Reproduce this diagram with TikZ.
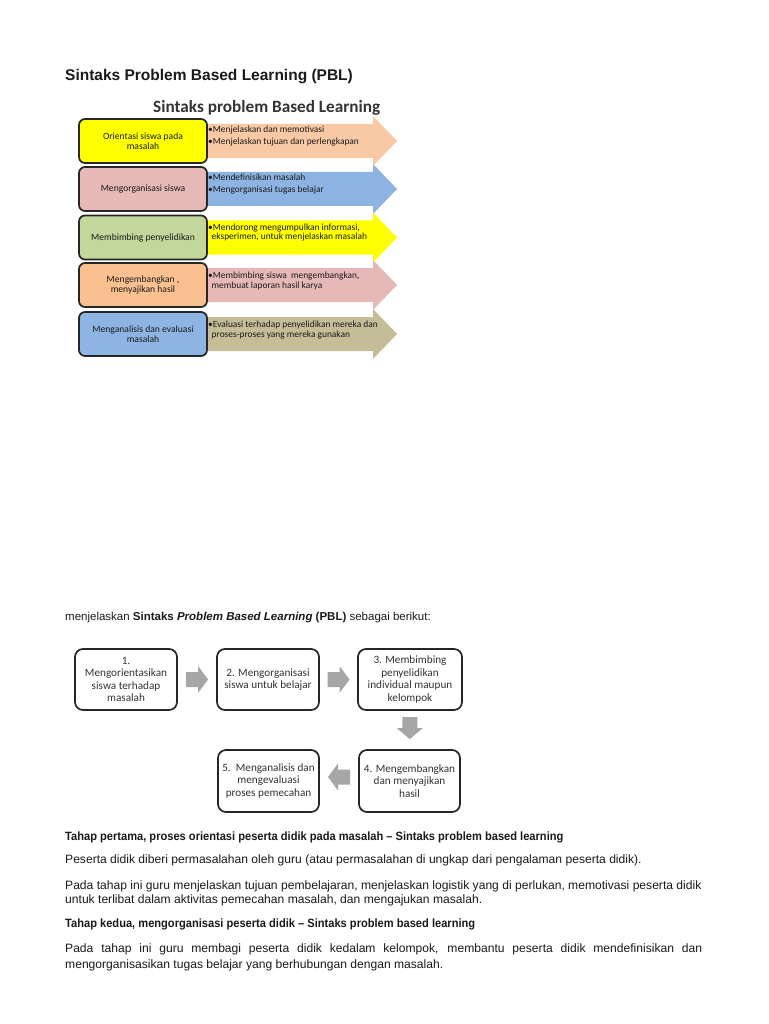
\documentclass[tikz,border=0pt]{standalone}
\usepackage{fontspec}
\setmainfont{Liberation Sans}
\newfontfamily\calfont{Carlito}
\usetikzlibrary{calc}
\definecolor{byellow}{HTML}{FFFF00}
\definecolor{bpink}{HTML}{E6B9B8}
\definecolor{bgreen}{HTML}{C3D69B}
\definecolor{borange}{HTML}{FAC090}
\definecolor{bblue}{HTML}{8EB4E3}
\definecolor{apeach}{HTML}{F9C8A4}
\definecolor{ablue}{HTML}{8DB3E2}
\definecolor{apink}{HTML}{E6B9B8}
\definecolor{akhaki}{HTML}{C4BD97}
\definecolor{agray}{HTML}{A6A6A6}
\definecolor{txt}{HTML}{1A1A1A}
\tikzset{
  phasebox/.style={draw=black!85, line width=1.7pt, rounded corners=6pt, minimum width=128pt, minimum height=44pt, inner sep=0pt, align=center, font=\calfont\fontsize{9.6}{10.5}\selectfont, text=txt},
  stepbox/.style={draw=black!85, line width=1.7pt, rounded corners=8pt, minimum height=61pt, inner sep=0pt, align=center, font=\calfont\fontsize{11.2}{12.6}\selectfont, text=black!80},
  bullettext/.style={anchor=base west, inner sep=0pt, font=\calfont\fontsize{9.4}{10}\selectfont, text=txt},
  bodytext/.style={anchor=base west, inner sep=0pt, font=\fontsize{12.1}{14}\selectfont, text=txt},
  boldtext/.style={anchor=base west, inner sep=0pt, font=\bfseries\fontsize{12}{14}\selectfont, text=txt},
  grayarrow/.style={fill=agray},
}
\newcommand\bandarrow[2]{%
  \fill[#2] (200,{#1-17}) -- (373,{#1-17}) -- (373,{#1-25}) -- (397,#1) -- (373,{#1+25}) -- (373,{#1+17}) -- (200,{#1+17}) -- cycle;}
\newcommand\narrowbold[1]{\scalebox{0.925}[1]{#1}}
\begin{document}
\begin{tikzpicture}[x=1pt,y=-1pt]
\path[use as bounding box, fill=white] (0,0) rectangle (768,1024);

% title
\node[anchor=base west, inner sep=0pt, font=\bfseries\fontsize{15.5}{17}\selectfont, text=txt] (title) at (65,81) {Sintaks Problem Based Learning (PBL)};

% diagram 1
\node[anchor=base west, inner sep=0pt, font=\calfont\bfseries\fontsize{17.2}{19}\selectfont, text=black!80] (head1) at (153,113) {Sintaks problem Based Learning};

\bandarrow{141}{apeach}
\bandarrow{189}{ablue}
\bandarrow{237.5}{byellow}
\bandarrow{285}{apink}
\bandarrow{334}{akhaki}

\node[phasebox, fill=byellow] (p1) at (143,141) {Orientasi siswa pada\\masalah};
\node[phasebox, fill=bpink] (p2) at (143,189) {Mengorganisasi siswa};
\node[phasebox, fill=bgreen] (p3) at (143,237.5) {Membimbing penyelidikan};
\node[phasebox, fill=borange] (p4) at (143,285) {Mengembangkan ,\\menyajikan hasil};
\node[phasebox, fill=bblue] (p5) at (143,334) {Menganalisis dan evaluasi\\masalah};

\node[bullettext] (t1a) at (208,133) {•Menjelaskan dan memotivasi};
\node[bullettext] (t1b) at (208,145) {•Menjelaskan tujuan dan perlengkapan};
\node[bullettext] (t2a) at (208,181) {•Mendefinisikan masalah};
\node[bullettext] (t2b) at (208,193) {•Mengorganisasi tugas belajar};
\node[bullettext] (t3a) at (208,230) {•Mendorong mengumpulkan informasi,};
\node[bullettext] (t3b) at (211.5,240) {eksperimen, untuk menjelaskan masalah};
\node[bullettext] (t4a) at (208,278) {•Membimbing siswa\ \ mengembangkan,};
\node[bullettext] (t4b) at (211.5,288) {membuat laporan hasil karya};
\node[bullettext] (t5a) at (208,327) {•Evaluasi terhadap penyelidikan mereka dan};
\node[bullettext] (t5b) at (211.5,337) {proses-proses yang mereka gunakan};

% intro line
\node[bodytext, font=\fontsize{11.5}{13}\selectfont] (intro) at (65,620) {menjelaskan \textbf{Sintaks \textit{Problem Based Learning}} \textbf{(PBL)} sebagai berikut:};

% diagram 2
\node[stepbox, minimum width=102pt] (b1) at (126,679.5) {1.\\Mengorientasikan\\siswa terhadap\\masalah};
\node[stepbox, minimum width=102pt] (b2) at (268,679.5) {2. Mengorganisasi\\siswa untuk belajar};
\node[stepbox, minimum width=104pt] (b3) at (410,679.5) {3. Membimbing\\penyelidikan\\individual maupun\\kelompok};
\node[stepbox, minimum width=101pt, minimum height=62pt] (b4) at (409.5,781) {4. Mengembangkan\\dan menyajikan\\hasil};
\node[stepbox, minimum width=101pt, minimum height=62pt] (b5) at (268.5,781) {5.\ \ Menganalisis dan\\mengevaluasi\\proses pemecahan};

\fill[grayarrow, shift={($(b1.east)!0.5!(b2.west)$)}] (-11,-7.5) -- (1,-7.5) -- (1,-13.5) -- (11,0) -- (1,13.5) -- (1,7.5) -- (-11,7.5) -- cycle;
\fill[grayarrow, shift={($(b2.east)!0.5!(b3.west)$)}] (-11,-7.5) -- (1,-7.5) -- (1,-13.5) -- (11,0) -- (1,13.5) -- (1,7.5) -- (-11,7.5) -- cycle;
\fill[grayarrow, shift={($(b3.south)!0.45!(b4.north)$)}] (-7.5,-11) -- (-7.5,0) -- (-13,0) -- (0,11) -- (13,0) -- (7.5,0) -- (7.5,-11) -- cycle;
\fill[grayarrow, shift={($(b4.west)!0.5!(b5.east)+(0,-4)$)}] (11,-7.5) -- (-1,-7.5) -- (-1,-13.5) -- (-11,0) -- (-1,13.5) -- (-1,7.5) -- (11,7.5) -- cycle;

% body text
\node[boldtext] (h1) at (65,840) {\narrowbold{Tahap pertama, proses orientasi peserta didik pada masalah – Sintaks problem based learning}};
\node[bodytext] (l1) at (65,863) {Peserta didik diberi permasalahan oleh guru (atau permasalahan di ungkap dari pengalaman peserta didik).};
\node[bodytext] (l2) at (65,889) {Pada tahap ini guru menjelaskan tujuan pembelajaran, menjelaskan logistik yang di perlukan, memotivasi peserta didik};
\node[bodytext] (l3) at (65,903) {untuk terlibat dalam aktivitas pemecahan masalah, dan mengajukan masalah.};
\node[boldtext] (h2) at (65,927) {\narrowbold{Tahap kedua, mengorganisasi peserta didik – Sintaks problem based learning}};
\node[bodytext] (l4) at (65,952) {\makebox[637pt][s]{Pada tahap ini guru membagi peserta didik kedalam kelompok, membantu peserta didik mendefinisikan dan}};
\node[bodytext] (l5) at (65,968) {mengorganisasikan tugas belajar yang berhubungan dengan masalah.};
\end{tikzpicture}
\end{document}
